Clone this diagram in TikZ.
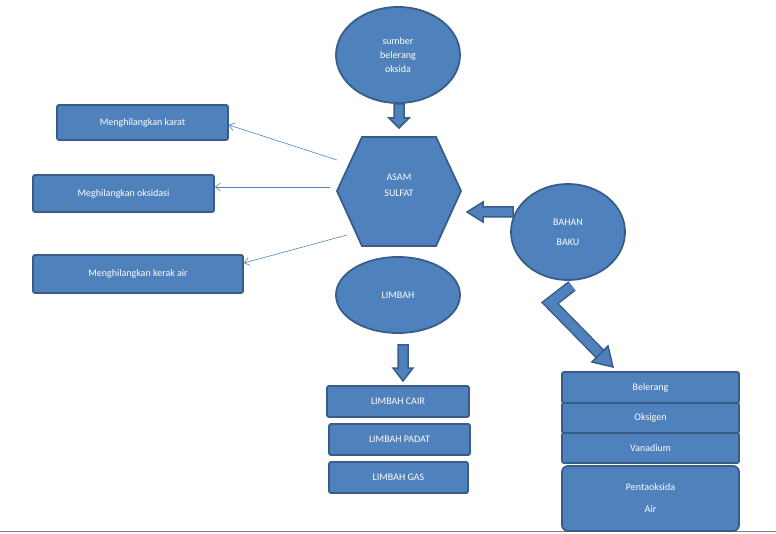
\documentclass[tikz,border=0pt]{standalone}
\usepackage{fontspec}
\setmainfont{Carlito}
\usetikzlibrary{shapes.geometric,arrows.meta}
\definecolor{fillb}{HTML}{4F81BD}
\definecolor{lineb}{HTML}{385D8A}
\tikzset{
  shp/.style={fill=fillb,draw=lineb,line width=1.8pt,text=white,font=\fontsize{10}{14}\selectfont,align=center},
  box/.style={shp,rounded corners=2pt},
  thin/.style={draw=fillb,line width=0.6pt,-{Straight Barb[length=5pt,width=8pt]}},
  blk/.style={fill=fillb,draw=lineb,line width=1.5pt,line join=miter}
}
\begin{document}
\begin{tikzpicture}[x=1pt,y=-1pt]
\useasboundingbox (0,0) rectangle (776,534);
\draw[gray,line width=0.8pt] (0,531) -- (776,531);
% ellipses
\node[shp,ellipse,minimum width=124,minimum height=96,inner sep=0] (sumber) at (398,55) {sumber\\belerang\\oksida};
\node[shp,ellipse,minimum width=114,minimum height=96,inner sep=0] (bahan) at (568,232) {BAHAN\\[6pt]BAKU};
\node[shp,ellipse,minimum width=124,minimum height=76,inner sep=0] (limbah) at (398,295) {LIMBAH};
% hexagon
\draw[shp] (337,191) -- (362,137) -- (436,137) -- (461,191) -- (436,246) -- (362,246) -- cycle;
\node[text=white,font=\fontsize{10}{16}\selectfont,align=center] (asam) at (399,185) {ASAM\\SULFAT};
% left boxes
\node[box,minimum width=171,minimum height=35] (karat) at (142.5,122.5) {Menghilangkan karat};
\node[box,minimum width=181,minimum height=37] (oks) at (123.5,193.5) {Meghilangkan oksidasi};
\node[box,minimum width=210,minimum height=38] (kerak) at (138,274) {Menghilangkan kerak air};
\coordinate (a1) at (337,160); \coordinate (a2) at (330,187); \coordinate (a3) at (347,235);
\draw[thin] (a1) -- (karat.east|-0,125) ;
\draw[thin] (a2) -- (oks.east|-0,187);
\draw[thin] (a3) -- (kerak.east|-0,263);
% limbah boxes
\node[box,minimum width=142,minimum height=31] (cair) at (398,401.5) {LIMBAH CAIR};
\node[box,minimum width=141,minimum height=31] (padat) at (399.5,439.5) {LIMBAH PADAT};
\node[box,minimum width=139,minimum height=31] (gas) at (398.5,477.5) {LIMBAH GAS};
% right stack
\node[box,minimum width=177,minimum height=31] (bel) at (650.5,387.5) {Belerang};
\node[box,minimum width=177,minimum height=30] (oksi) at (650.5,418) {Oksigen};
\node[box,minimum width=177,minimum height=30] (van) at (650.5,448) {Vanadium};
\node[box,rounded corners=6pt,minimum width=177,minimum height=65] (pent) at (650.5,498.5) {Pentaoksida\\[8pt]Air};
% block arrows
\draw[blk] (394,104) -- (404,104) -- (404,118) -- (409,118) -- (399,128) -- (389,118) -- (394,118) -- cycle;
\draw[blk] (398,345) -- (408,345) -- (408,368) -- (413,368) -- (403,381) -- (393,368) -- (398,368) -- cycle;
\draw[blk] (513,207) -- (483,207) -- (483,202) -- (467,212) -- (483,222) -- (483,217) -- (513,217) -- cycle;
% zigzag
\draw[lineb,line width=12pt,line join=miter] (572,286) -- (550,303) -- (601,355);
\draw[fillb,line width=9pt,line join=miter] (572,286) -- (550,303) -- (602,356);
\draw[blk] (608,346) -- (613,367) -- (592,362) -- cycle;
\end{tikzpicture}
\end{document}
